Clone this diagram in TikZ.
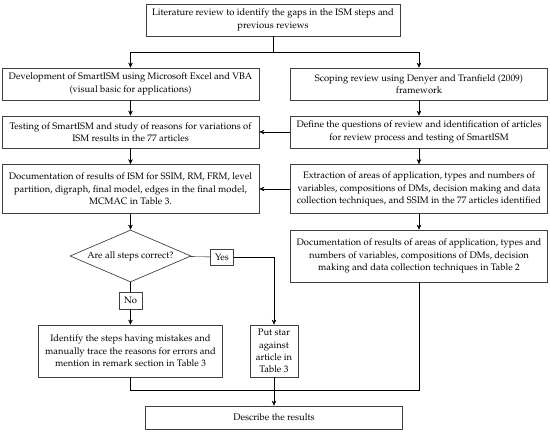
\documentclass[tikz,border=0pt]{standalone}
\usepackage[T1]{fontenc}
\usepackage{mathpazo}
\usetikzlibrary{arrows.meta,shapes.geometric}
\begin{document}
\begin{tikzpicture}[x=1pt,y=-1pt,>={Stealth[length=5pt,width=4.5pt]},
    font=\fontsize{9.4}{12.3}\selectfont,
    box/.style={draw=black!75,line width=0.7pt,align=center,inner sep=0pt},
    wide/.style={box,minimum width=257pt,minimum height=32pt},
    tall/.style={box,minimum width=257pt,minimum height=49pt},
    tag/.style={box,minimum width=23pt,minimum height=16pt},
    ask/.style={box,diamond,aspect=2.3,minimum width=121pt,minimum height=52pt}]
              \useasboundingbox (0,0) rectangle (550,433);
              \node[box,minimum width=254pt,minimum height=32pt] (lit) at (273,20)
                {Literature review to identify the gaps in the ISM steps and\\previous reviews};
              \node[wide] (dev) at (130.5,84)
                {Development of SmartISM using Microsoft Excel and VBA\\(visual basic for applications)};
              \node[wide] (scope) at (419,84)
                {Scoping review using Denyer and Tranfield (2009)\\framework};
              \node[wide] (test) at (130.5,132)
                {Testing of SmartISM and study of reasons for variations of\\ISM results in the 77 articles};
              \node[wide] (define) at (419,132)
                {Define the questions of review and identification of articles\\for review process and testing of SmartISM};
              \node[tall] (docism) at (130.5,189)
                {Documentation of results of ISM for SSIM, RM, FRM, level\\partition, digraph, final model, edges in the final model,\\MCMAC in Table 3.};
              \node[tall] (extract) at (419,189)
                {Extraction of areas of application, types and numbers of\\variables, compositions of DMs, decision making and data\\collection techniques, and SSIM in the 77 articles identified};
              \node[tall,minimum height=52pt] (docres) at (419,256)
                {Documentation of results of areas of application, types and\\numbers of variables, compositions of DMs, decision\\making and data collection techniques in Table 2};
              \node[ask] (check) at (130.5,256) {Are all steps correct?};
              \node[tag] (yes) at (222,257) {Yes};
              \node[tag,minimum height=17pt] (no) at (130.5,300.5) {No};
              \node[box,minimum width=184pt,minimum height=52pt] (ident) at (130.5,351)
                {Identify the steps having mistakes and\\manually trace the reasons for errors and\\mention in remark section in Table 3};
              \node[box,minimum width=48pt,minimum height=52pt] (star) at (274,351)
                {Put star\\against\\article in\\Table 3};
              \node[box,minimum width=257pt,minimum height=23pt] (res) at (274,417.5) {Describe the results};
              \coordinate (split) at (273,52);
              \coordinate (merge) at (419,390);
              \draw (lit) -- (split);
              \draw[->] (split) -| (dev);
              \draw[->] (split) -| (scope);
              \draw[->] (dev) -- (test);
              \draw[->] (scope) -- (define);
              \draw[->] (define) -- (test);
              \draw[->] (test) -- (docism);
              \draw[->] (define) -- (extract);
              \draw[->] (extract) -- (docism);
              \draw[->] (extract) -- (docres);
              \draw[->] (docism) -- (check);
              \draw (check) -- (no);
              \draw[->] (no) -- (ident);
              \draw (check) -- (yes);
              \draw[->] (yes) -| (star);
              \draw (ident) |- (merge) -- (docres);
              \draw[->] (star) -- (res);
            \end{tikzpicture}
\end{document}
